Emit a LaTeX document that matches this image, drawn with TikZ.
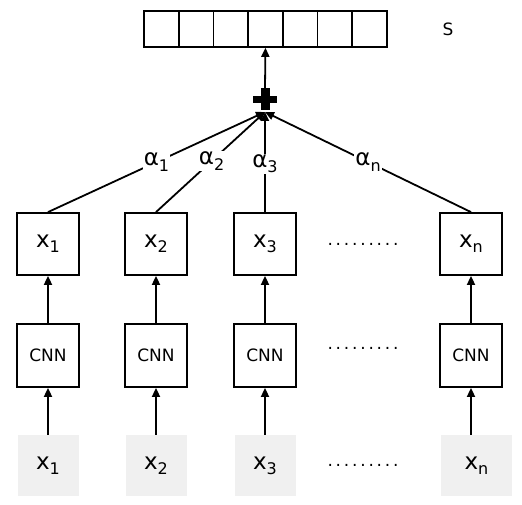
\documentclass[tikz,border=0pt]{standalone}
\usepackage{fontspec}
\setmainfont{DejaVu Sans}
\usetikzlibrary{arrows.meta}
\newcommand\lsub[1]{\raisebox{-0.22em}{\fontsize{16}{16}\selectfont #1}}
\newcommand\onedot{\makebox[8.2pt]{.}}
\newcommand\dotrow{\onedot\onedot\onedot\onedot\onedot\onedot\onedot\onedot\onedot}
\begin{document}
\begin{tikzpicture}[x=1pt,y=-1pt,
  box/.style={draw, line width=1.8pt, minimum width=62pt, minimum height=62pt, inner sep=0pt, font=\fontsize{23}{23}\selectfont},
  cnnbox/.style={draw, line width=1.8pt, minimum width=62pt, minimum height=63pt, inner sep=0pt, font=\fontsize{17}{17}\selectfont},
  inbox/.style={fill=black!6, minimum width=61pt, minimum height=61pt, inner sep=0pt, font=\fontsize{23}{23}\selectfont},
  cell/.style={draw, line width=1.6pt, minimum width=34.7pt, minimum height=36pt, inner sep=0pt},
  arr/.style={line width=1.8pt, -{Triangle[length=9pt,width=8pt]}},
  lab/.style={fill=white, inner sep=1pt, font=\fontsize{23}{23}\selectfont},
  dotnode/.style={anchor=base, inner sep=0pt, font=\fontsize{17}{17}\selectfont}]
\useasboundingbox (0,0) rectangle (522,505);
% output vector
\foreach \i in {1,...,7} \node[cell] (v\i) at ({144+34.7*(\i-0.5)},29) {};
\node[font=\fontsize{17}{17}\selectfont] (S) at (448,29) {S};
% plus
\node[minimum size=24pt, inner sep=0pt] (plus) at (265,100) {};
\fill (plus.center) ++(-12,-3.5) rectangle ++(24,7);
\fill (plus.center) ++(-4.5,-12) rectangle ++(9,22);
\coordinate (pin) at (265,112);
\draw[arr] (plus.north) -- (v4.south);
% columns
\foreach \n/\cx/\s in {1/48/1,2/156/2,3/265/3} {
  \node[box] (b\n) at (\cx,244) {x\lsub{\s}};
  \node[cnnbox] (c\n) at (\cx,355.5) {CNN};
  \node[inbox] (in\n) at (\cx,465.5) {x\lsub{\s}};
}
\node[box] (b4) at (471,244) {x\lsub{n}};
\node[cnnbox] (c4) at (471,355.5) {CNN};
\node[inbox, minimum width=71pt] (in4) at (476.5,465.5) {x\lsub{n}};
\foreach \n in {1,2,3,4} {
  \draw[arr] (c\n.south |- in\n.north) -- (c\n.south);
  \draw[arr] (c\n.north) -- (b\n.south);
}
% dots
\node[dotnode] (d1) at (363,246) {\dotrow};
\node[dotnode] (d2) at (363,349) {\dotrow};
\node[dotnode] (d3) at (363,466) {\dotrow};
% attention connectors
\draw[arr] (b1.north) -- node[lab, pos=0.5] {α\lsub{1}} (pin);
\draw[arr] (b2.north) -- node[lab, pos=0.51] {α\lsub{2}} (pin);
\draw[arr] (b3.north) -- node[lab, pos=0.48] {α\lsub{3}} (pin);
\draw[arr] (b4.north) -- node[lab, pos=0.5] {α\lsub{n}} (pin);
\end{tikzpicture}
\end{document}
